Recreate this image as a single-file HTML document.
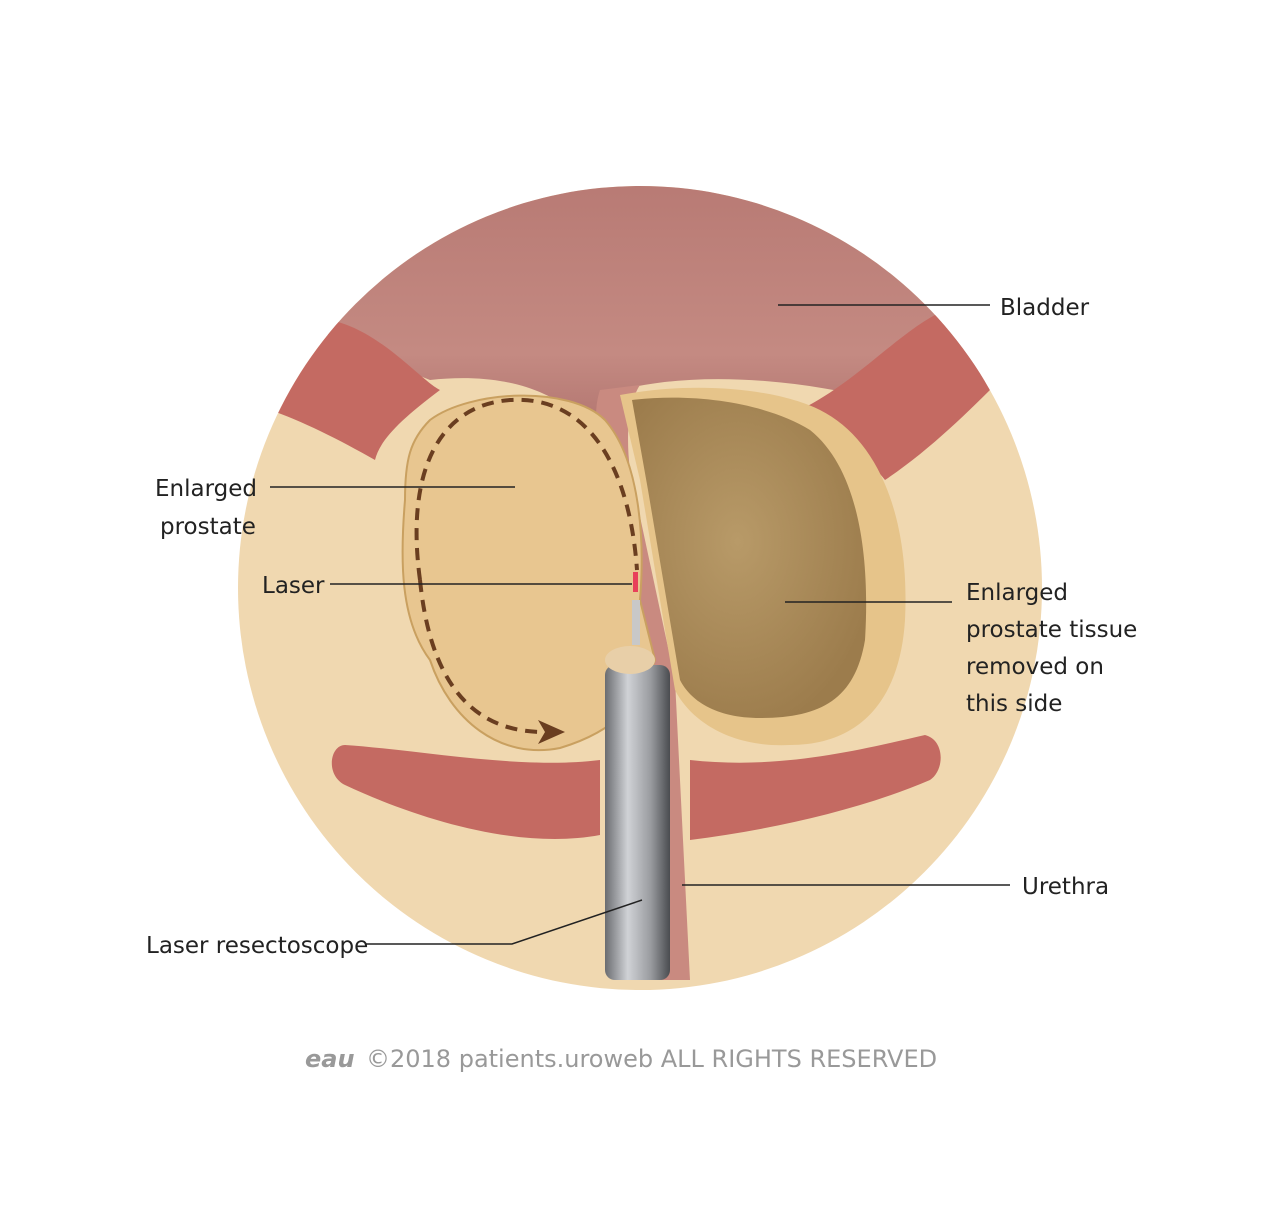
<!DOCTYPE html>
<html><head><meta charset="utf-8"><style>
html,body{margin:0;padding:0;background:#fff;}
svg{display:block}
text{font-family:"DejaVu Sans","Liberation Sans",sans-serif;font-size:23px;fill:#222}
</style></head><body>
<svg width="1280" height="1212" viewBox="0 0 1280 1212" xmlns="http://www.w3.org/2000/svg">
<defs>
<clipPath id="c"><circle cx="640" cy="588" r="402"/></clipPath>
<linearGradient id="bl" x1="0" y1="0" x2="0" y2="1">
<stop offset="0" stop-color="#b87a74"/><stop offset="0.6" stop-color="#c48a82"/><stop offset="1" stop-color="#a86a66"/></linearGradient>
<radialGradient id="cav" cx="0.45" cy="0.45" r="0.6"><stop offset="0" stop-color="#b89a68"/><stop offset="1" stop-color="#9c7c4c"/></radialGradient>
<linearGradient id="sc" x1="0" y1="0" x2="1" y2="0"><stop offset="0" stop-color="#6a6c70"/><stop offset="0.35" stop-color="#d0d2d6"/><stop offset="0.7" stop-color="#9a9ca0"/><stop offset="1" stop-color="#4a4c50"/></linearGradient>
</defs>
<g clip-path="url(#c)">
<rect x="230" y="180" width="820" height="820" fill="#f0d8b0"/>
<path d="M230 180 H1050 V420 C980 360 930 370 880 400 C800 380 700 370 620 390 L610 470 C590 400 520 370 430 380 C380 360 330 330 230 300 Z" fill="url(#bl)"/>
<path d="M330 320 C380 330 420 380 440 390 C400 420 380 440 375 460 C340 440 300 420 270 410 L290 340 Z" fill="#c46a62"/>
<path d="M945 310 C900 330 860 380 800 410 C840 440 870 460 885 480 C930 450 970 410 1000 380 L980 320 Z" fill="#c46a62"/>
<path d="M600 390 C590 420 600 460 620 490 L650 680 L660 980 L690 980 L675 680 L630 470 C625 430 630 400 640 385 Z" fill="#c98a80"/>
<path d="M620 395 C700 380 780 390 820 410 C880 440 910 520 905 620 C900 700 860 745 790 745 C730 748 690 720 675 690 L640 480 Z" fill="#e6c48a"/>
<path d="M632 400 C700 392 770 405 810 430 C860 470 870 560 865 640 C855 700 820 718 760 718 C715 718 690 700 680 680 L648 490 Z" fill="url(#cav)"/>
<path d="M430 420 C470 390 570 385 605 420 C640 460 645 540 640 600 L655 660 C640 700 620 730 560 748 C500 760 450 720 430 660 C400 620 400 560 405 500 C405 460 410 440 430 420 Z" fill="#e8c690" stroke="#c9a060" stroke-width="2"/>
<path d="M345 745 C420 750 520 770 600 760 L600 835 C520 850 420 820 345 785 C325 775 330 745 345 745 Z" fill="#c46a62"/>
<path d="M690 760 C780 770 860 750 925 735 C945 740 945 770 930 780 C860 810 770 830 690 840 Z" fill="#c46a62"/>
<rect x="605" y="665" width="65" height="315" rx="10" fill="url(#sc)"/>
<ellipse cx="630" cy="660" rx="25" ry="14" fill="#e8cfa8"/>
<rect x="632" y="600" width="8" height="45" fill="#c8c8c8"/>
<rect x="633" y="572" width="5" height="20" fill="#e8405a"/>
</g>
<path d="M420 580 C405 470 440 405 510 400 C590 395 630 470 637 570" fill="none" stroke="#6a3e20" stroke-width="4" stroke-dasharray="12 8"/>
<path d="M420 580 C430 680 470 730 540 732" fill="none" stroke="#6a3e20" stroke-width="4" stroke-dasharray="12 8"/>
<path d="M538 720 L565 732 L538 744 L545 732 Z" fill="#6a3e20"/>
<g stroke="#222" stroke-width="1.5" fill="none">
<line x1="778" y1="305" x2="990" y2="305"/>
<line x1="270" y1="487" x2="515" y2="487"/>
<line x1="330" y1="584" x2="632" y2="584"/>
<line x1="785" y1="602" x2="952" y2="602"/>
<line x1="682" y1="885" x2="1010" y2="885"/>
<path d="M365 944 H512 L642 900"/>
</g>
<text x="1000" y="315">Bladder</text>
<text x="155" y="496">Enlarged</text>
<text x="160" y="534">prostate</text>
<text x="262" y="593">Laser</text>
<text x="966" y="600">Enlarged</text>
<text x="966" y="637">prostate tissue</text>
<text x="966" y="674">removed on</text>
<text x="966" y="711">this side</text>
<text x="1022" y="894">Urethra</text>
<text x="146" y="953">Laser resectoscope</text>
<text x="305" y="1067" style="font-size:24px;fill:#999;font-weight:bold;font-style:italic">eau</text>
<text x="366" y="1067" style="font-size:24px;fill:#999">©2018 patients.uroweb ALL RIGHTS RESERVED</text>
</svg>
</body></html>
